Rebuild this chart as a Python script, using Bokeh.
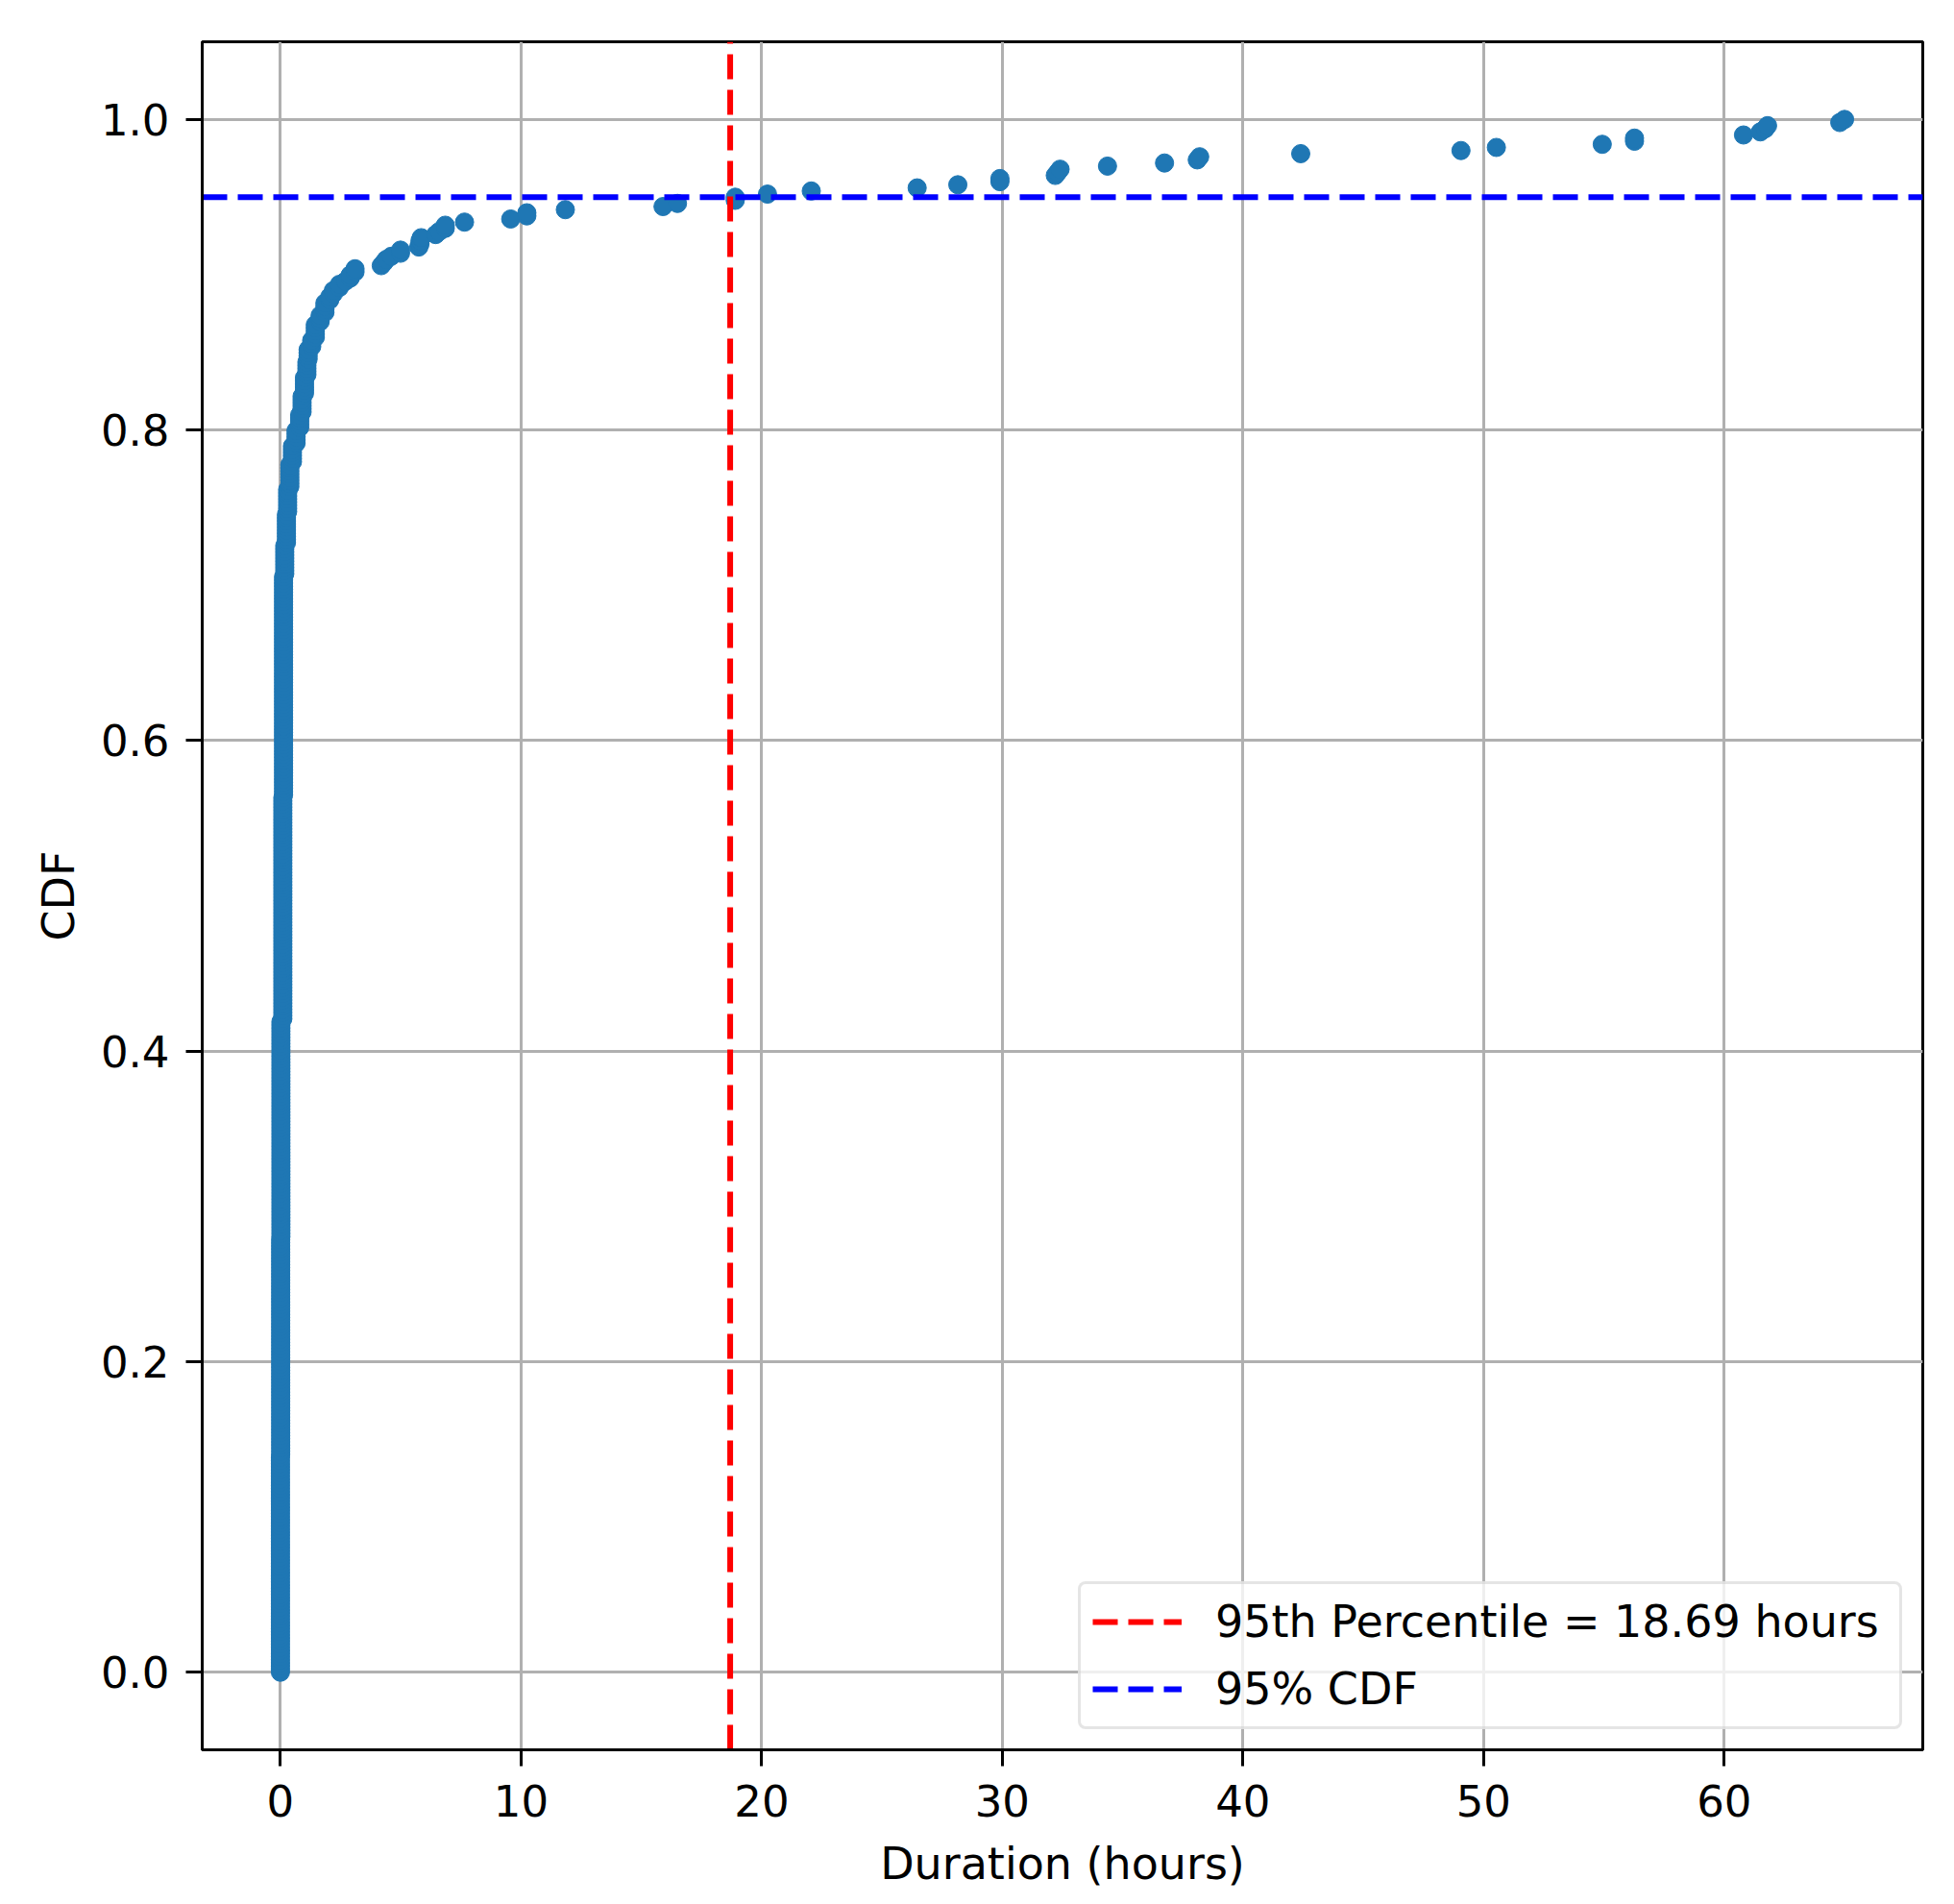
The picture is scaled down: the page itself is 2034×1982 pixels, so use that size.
import numpy as np
from bokeh.plotting import figure
from bokeh.models import Range1d, FixedTicker, PrintfTickFormatter, Legend, LegendItem
from bokeh.embed import file_html
from bokeh.resources import INLINE

# Durations (hours), with how many records share each value
duration_values = [0.00, 0.01, 0.02, 0.10, 0.13, 0.18, 0.25, 0.30, 0.39, 0.50,
                   0.65, 0.80, 0.90, 1.00, 1.10, 1.15, 1.30, 1.45, 1.65, 1.85,
                   2.05, 2.20, 2.45, 2.70, 2.90, 3.10, 4.19, 4.30, 4.40, 4.60,
                   4.99, 5.75, 5.80, 5.85, 6.45, 6.60, 6.85, 7.65, 9.57, 10.24,
                   11.84, 15.90, 16.50, 18.90, 20.24, 22.06, 26.46, 28.15, 29.90, 32.20,
                   32.30, 32.40, 34.37, 36.74, 38.10, 38.20, 42.40, 49.06, 50.53, 54.93,
                   56.27, 60.80, 61.50, 61.70, 61.80, 64.80, 65.00]
duration_counts = [70, 70, 70, 72, 71, 10, 10, 8, 8, 6,
                   5, 5, 6, 6, 5, 4, 3, 5, 3, 4,
                   2, 2, 2, 1, 2, 2, 1, 1, 1, 1,
                   2, 1, 2, 1, 1, 1, 2, 1, 1, 2,
                   1, 1, 1, 2, 1, 1, 1, 1, 2, 1,
                   1, 1, 1, 1, 1, 1, 1, 1, 1, 1,
                   2, 1, 1, 1, 1, 1, 1]

x_ticks = [0, 10, 20, 30, 40, 50, 60]
y_ticks = [0.0, 0.2, 0.4, 0.6, 0.8, 1.0]
percentile_95 = 18.69
cdf_level = 0.95

durations = np.sort(np.repeat(duration_values, duration_counts))
n = len(durations)
cdf = np.arange(n) / (n - 1)

xmin, xmax = float(durations.min()), float(durations.max())
xpad = 0.05 * (xmax - xmin)
ymin, ymax = 0.0, 1.0
ypad = 0.05 * (ymax - ymin)
x_lo, x_hi = xmin - xpad, xmax + xpad
y_lo, y_hi = ymin - ypad, ymax + ypad

FONT = "DejaVu Sans"
TICK_FS = "45px"
LABEL_FS = "46px"

p = figure(width=2026, height=1974,
           x_range=Range1d(x_lo, x_hi), y_range=Range1d(y_lo, y_hi),
           output_backend="svg", toolbar_location=None,
           min_border_left=210, min_border_right=25,
           min_border_top=43, min_border_bottom=153)

p.background_fill_color = "white"
p.border_fill_color = "white"
p.outline_line_color = "black"
p.outline_line_width = 3
p.outline_line_alpha = 1.0

p.xaxis.ticker = FixedTicker(ticks=x_ticks)
p.yaxis.ticker = FixedTicker(ticks=y_ticks)
p.yaxis.formatter = PrintfTickFormatter(format="%.1f")
p.xaxis.axis_label = "Duration (hours)"
p.yaxis.axis_label = "CDF"

for ax in (p.xaxis[0], p.yaxis[0]):
    ax.axis_line_width = 3
    ax.axis_line_color = "black"
    ax.major_tick_line_width = 3
    ax.major_tick_line_color = "black"
    ax.major_tick_out = 17
    ax.major_tick_in = 0
    ax.minor_tick_line_color = None
    ax.major_label_text_font = FONT
    ax.major_label_text_font_size = TICK_FS
    ax.major_label_text_color = "black"
    ax.axis_label_text_font = FONT
    ax.axis_label_text_font_size = LABEL_FS
    ax.axis_label_text_font_style = "normal"
    ax.axis_label_text_color = "black"

p.xaxis.major_label_standoff = 19
p.yaxis.major_label_standoff = 17
p.xaxis.axis_label_standoff = 19
p.yaxis.axis_label_standoff = 14

p.grid.grid_line_color = "#b0b0b0"
p.grid.grid_line_width = 3

p.scatter(durations, cdf, size=19, color="#1f77b4", line_color="#1f77b4")

r_pct = p.line([percentile_95, percentile_95], [y_lo, y_hi],
               line_color="#ff0000", line_width=6, line_dash="26 11")
r_cdf = p.line([x_lo, x_hi], [cdf_level, cdf_level],
               line_color="#0000ff", line_width=6, line_dash="26 11")

legend = Legend(items=[
    LegendItem(label=f"95th Percentile = {percentile_95:.2f} hours", renderers=[r_pct]),
    LegendItem(label=f"{int(cdf_level * 100)}% CDF", renderers=[r_cdf]),
], location="bottom_right")
legend.label_text_font = FONT
legend.label_text_font_size = LABEL_FS
legend.label_text_color = "black"
legend.glyph_width = 93
legend.glyph_height = 44
legend.label_height = 44
legend.label_width = 700
legend.label_standoff = 35
legend.spacing = 16
legend.padding = 12
legend.margin = 21
legend.border_line_color = "#cccccc"
legend.border_line_width = 3
legend.background_fill_color = "white"
legend.background_fill_alpha = 0.8
if "border_radius" in Legend.properties():
    legend.border_radius = 8
p.add_layout(legend)

open("out.html", "w").write(file_html(p, INLINE))
